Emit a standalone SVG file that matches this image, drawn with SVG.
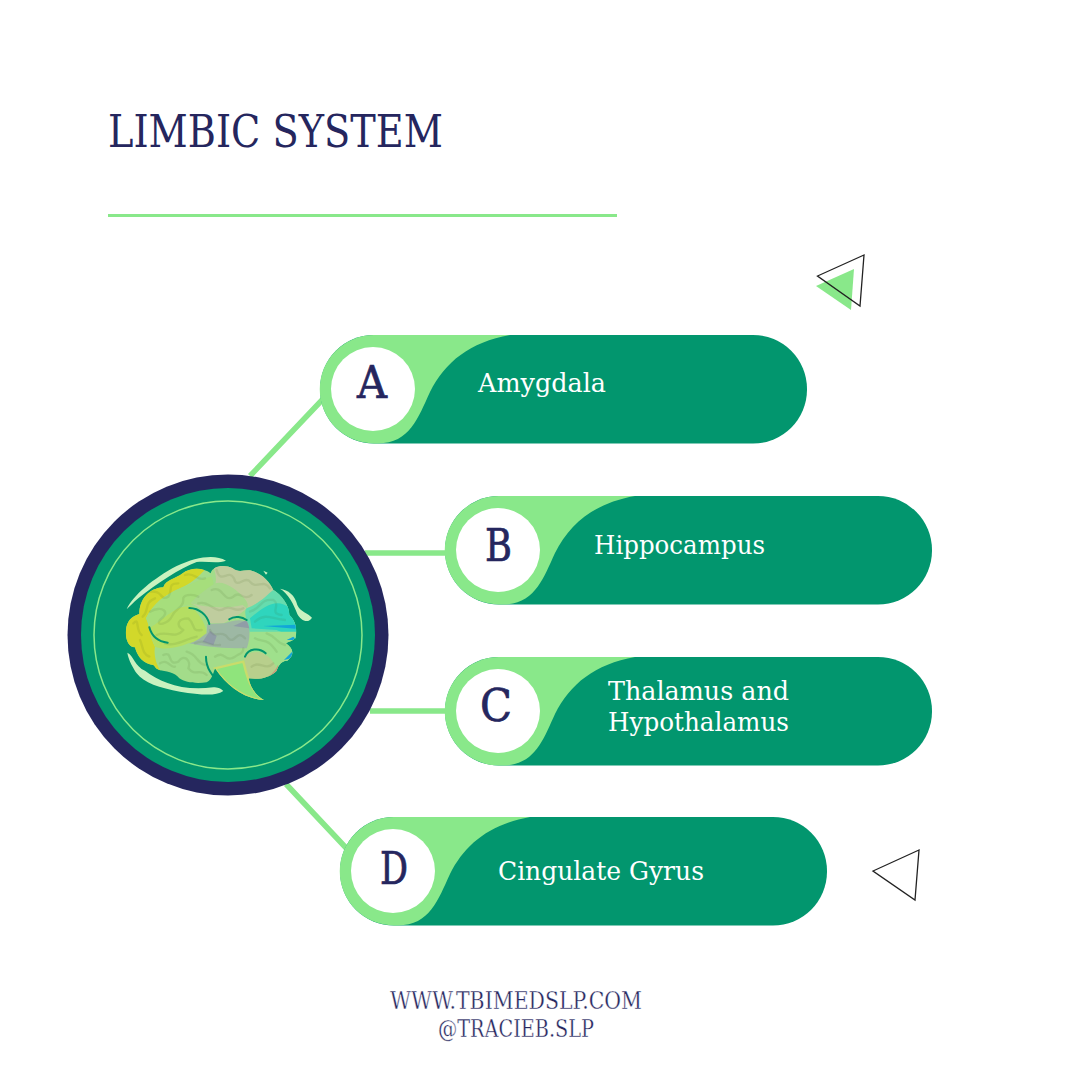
<svg xmlns="http://www.w3.org/2000/svg" width="1080" height="1080" viewBox="0 0 1080 1080">
<style>
.navy{fill:#25265e}
.slab{font-family:"DejaVu Serif","Liberation Serif",serif}
.lbl{font-size:26.500px;fill:#fff}
.let{font-size:44px;fill:#25265e;stroke:#25265e;stroke-width:.7px}
.foot{font-size:24px;stroke:#fff;stroke-width:.35px}
.dark{fill:#02966e}.light{fill:#89e88a}
.conn{stroke:#89e88a;stroke-width:5.5;fill:none}
.tri{fill:none;stroke:#222;stroke-width:1.3}
.gy{fill:none;stroke:#3a5a20;stroke-opacity:.1;stroke-width:7;stroke-linecap:round;stroke-linejoin:round}
.cut{fill:none;stroke:#02966e;stroke-width:6;stroke-linecap:round}
</style>
<defs>
<g id="pill">
<rect x="320" y="335" width="487" height="108.500" rx="54" class="dark"/>
<path class="light" d="M374 335H510C470 342 445 362 430 392C418 418 410 443 378 443.500H374A54 54 0 0 1 374 335Z"/>
<circle cx="373" cy="389" r="42" fill="#fff"/>
</g>
<clipPath id="sil"><path d="M78 270C80 245 95 228 118 222C118 180 145 145 190 142C198 118 225 118 248 100C270 82 310 82 332 100C338 78 372 72 398 85C415 100 435 88 455 92C485 100 510 125 520 150C545 165 568 195 568 225C590 245 592 275 586 295C575 305 565 305 558 310C580 325 585 345 562 362C540 362 532 385 530 392C510 412 480 420 446 415C450 440 465 465 492 480C440 478 385 445 345 385C338 405 335 420 320 427C290 432 255 428 238 415C225 395 195 395 178 390C165 385 165 378 160 375C130 372 112 350 105 322C85 322 75 295 78 270Z"/></clipPath>
</defs>
<rect width="1080" height="1080" fill="#fff"/>
<text id="title" class="navy slab" x="108" y="147" font-size="45" textLength="335" lengthAdjust="spacingAndGlyphs">LIMBIC SYSTEM</text>
<rect x="108" y="214" width="509" height="3" class="light"/>
<g id="connectors">
<path class="conn" d="M250 476L323 399M365 553H446M370 711H446M286 784L348 850"/>
</g>
<g id="hub">
<circle cx="228" cy="635" r="160.500" class="navy"/>
<circle cx="228" cy="635" r="147" class="dark"/>
<circle cx="228" cy="635" r="134" fill="none" stroke="#89e88a" stroke-width="1.500"/>
<g id="brain" transform="translate(100 540) scale(.3333)">
<path fill="#c9f2c0" d="M80 208C100 165 160 115 230 78C290 50 345 42 378 62C350 72 320 62 290 66C240 85 170 130 115 175C100 188 90 198 80 208ZM82 338C100 345 105 380 135 392C180 425 245 455 340 442C355 440 365 448 370 453C345 470 300 464 240 455C180 445 130 428 110 400C100 385 85 360 82 338ZM540 146C565 150 585 165 592 195C600 215 625 220 636 233C625 252 602 242 592 222C582 195 565 160 540 146ZM490 92L503 98L498 104Z"/>
<g clip-path="url(#sil)">
<rect x="70" y="70" width="530" height="420" fill="#a3dc8a"/>
<path fill="#d2d82a" d="M60 60H335C300 115 270 130 240 145C195 165 160 190 138 235C150 260 150 295 165 320C160 345 170 385 190 400H60Z"/>
<path fill="#b5de62" d="M150 262C190 240 230 190 275 200C305 230 320 260 320 280C300 300 285 308 265 310C230 325 190 330 165 320C155 300 155 280 150 262Z"/>
<path fill="#a6de7c" d="M138 235C160 190 195 165 240 145C290 125 320 110 335 110C345 130 345 165 330 190L272 195C230 190 190 240 150 262Z"/>
<path fill="#bfcd9e" d="M332 60H530V152C500 165 480 190 440 205C420 225 390 240 370 250L322 250C320 220 300 200 272 190L395 195C350 180 300 165 345 135C352 115 345 90 332 60Z"/>
<path fill="#a8d88c" d="M345 130C300 160 285 175 272 190C320 205 390 205 428 195L440 205C455 190 420 160 400 145C380 130 360 125 345 130Z"/>
<path fill="#66dcae" d="M520 148L600 200V300L450 280C440 240 430 215 440 205C480 190 500 165 520 150Z"/>
<path fill="#2fd5bd" d="M450 235C490 200 530 170 570 205L600 300L530 270L455 265Z"/>
<path fill="#9fe08c" d="M450 275H600V370L530 400L450 330Z"/>
<path fill="#9db8a4" d="M322 252L372 250C400 240 430 235 445 250C452 280 447 310 440 325C400 325 340 325 268 310C290 305 305 290 320 280Z"/>
<path fill="#8d96a8" opacity=".8" d="M308 305L330 272L350 288L340 316ZM400 258L440 240L448 265Z"/>
<path fill="#b8cf8c" d="M432 350C470 320 510 340 530 385V420H440Z"/>
<path fill="#c89c78" d="M485 418C510 410 525 395 534 375L545 420Z"/>
<path fill="#12a6d8" d="M490 258L590 254L586 266ZM580 290L560 300L590 300ZM552 360L582 330L586 352Z"/>
<path fill="#8fe47c" stroke="#c9dc6b" stroke-width="7" d="M345 385L430 365C440 405 450 455 495 482C440 478 385 445 345 385Z"/>
<path class="gy" d="M100 250C120 230 105 270 125 285M120 300C130 320 125 340 148 350M128 230C150 210 130 190 165 175M150 155C190 150 180 185 205 170C220 150 200 130 235 130M255 105C285 95 290 125 315 115"/>
<path class="gy" d="M150 215C185 195 215 215 180 240C165 262 205 250 215 230C225 205 250 205 250 180C245 165 275 160 295 170M170 285C205 270 225 300 250 270C225 255 235 235 265 235C290 255 270 275 305 270M195 310C225 320 250 300 290 290"/>
<path class="gy" d="M350 90C362 135 385 85 402 115C410 150 435 105 450 125C470 150 490 115 510 145M335 150C370 135 370 190 400 170C420 150 430 185 455 165M295 190C330 180 345 225 375 205C395 195 405 220 430 205"/>
<path class="gy" d="M450 215C485 205 480 175 520 180C545 195 505 220 545 225M465 245C500 215 520 240 555 240M500 280C530 290 530 310 555 315M465 295C490 310 500 290 530 335"/>
<path class="gy" d="M190 345C220 330 200 380 235 365C250 340 275 360 265 385C285 410 300 385 320 405M260 335C295 345 285 365 315 375M180 370C205 355 210 385 225 380M345 350C375 330 375 370 405 350C420 340 430 340 430 325M455 380C480 360 495 395 520 370"/>
<path class="gy" stroke-opacity=".2" d="M330 270C340 300 365 265 385 295C405 315 410 265 435 295M285 310C320 295 320 320 360 315"/>
</g>
<path class="cut" d="M268 204C298 205 322 225 328 252M148 262C155 288 175 305 203 308M388 238C405 225 428 232 440 240M435 350C445 325 478 322 497 340M318 350C318 385 335 405 365 438"/>
</g>
</g>
<g id="node-a"><use href="#pill"/><text class="let slab" x="357" y="398" textLength="30" lengthAdjust="spacingAndGlyphs">A</text><text class="lbl slab" x="478" y="392" textLength="128" lengthAdjust="spacingAndGlyphs">Amygdala</text></g>
<g id="node-b"><use href="#pill" x="125" y="161"/><text class="let slab" x="485" y="561" textLength="27" lengthAdjust="spacingAndGlyphs">B</text><text class="lbl slab" x="594" y="554" textLength="171" lengthAdjust="spacingAndGlyphs">Hippocampus</text></g>
<g id="node-c"><use href="#pill" x="125" y="322"/><text class="let slab" x="480" y="721" textLength="32" lengthAdjust="spacingAndGlyphs">C</text><text class="lbl slab" x="608" y="700" textLength="181" lengthAdjust="spacingAndGlyphs">Thalamus and</text><text class="lbl slab" x="608" y="731" textLength="181" lengthAdjust="spacingAndGlyphs">Hypothalamus</text></g>
<g id="node-d"><use href="#pill" x="20" y="482"/><text class="let slab" x="380" y="884" textLength="28" lengthAdjust="spacingAndGlyphs">D</text><text class="lbl slab" x="498" y="880" textLength="206" lengthAdjust="spacingAndGlyphs">Cingulate Gyrus</text></g>
<path class="light" d="M854 269L816 286L851 310Z"/>
<path class="tri" d="M864 255L817.500 276L860 306Z"/>
<path class="tri" d="M919 850L873 871L915 900Z"/>
<text class="navy slab foot" x="390" y="1009" textLength="252" lengthAdjust="spacingAndGlyphs">WWW.TBIMEDSLP.COM</text>
<text class="navy slab foot" x="438" y="1037" textLength="156" lengthAdjust="spacingAndGlyphs">@TRACIEB.SLP</text>
</svg>
